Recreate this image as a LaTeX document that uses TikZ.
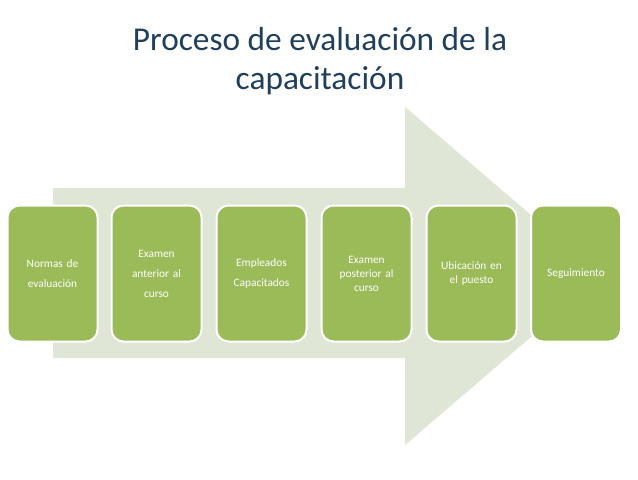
\documentclass[tikz,border=0pt]{standalone}
\usepackage{fontspec}
\setmainfont{Carlito}
\definecolor{boxg}{HTML}{9BBB59}
\definecolor{arrg}{HTML}{DFE6D6}
\definecolor{titc}{HTML}{1F3F5C}
\begin{document}
\begin{tikzpicture}[x=0.75pt,y=-0.75pt,
  stepbox/.style={draw=white,line width=1.5pt,fill=boxg,rounded corners=9pt,minimum width=67.5pt,minimum height=102pt,text=white,align=center,font=\fontsize{8.5}{15}\selectfont,inner sep=1pt,text width=64pt}]
\useasboundingbox (0,0) rectangle (638,479);
\fill[arrg] (53,188) -- (405,188) -- (405,107) -- (602,276) -- (405,445) -- (405,358) -- (53,358) -- cycle;
\node[text=titc,font=\fontsize{25}{29}\selectfont,align=center] (t) at (320,61) {Proceso de evaluación de la\\capacitación};
\node[stepbox] (b1) at (52.5,273.5) {Normas de\\evaluación};
\node[stepbox] (b2) at (156.5,273.5) {Examen\\anterior al\\curso};
\node[stepbox] (b3) at (261.5,273.5) {Empleados\\Capacitados};
\node[stepbox,font=\fontsize{8.5}{10.5}\selectfont] (b4) at (366.5,273.5) {Examen\\posterior al\\curso};
\node[stepbox,font=\fontsize{8.5}{10.5}\selectfont] (b5) at (471.5,273.5) {Ubicación en\\el puesto};
\node[stepbox] (b6) at (576,273.5) {Seguimiento};
\end{tikzpicture}
\end{document}
